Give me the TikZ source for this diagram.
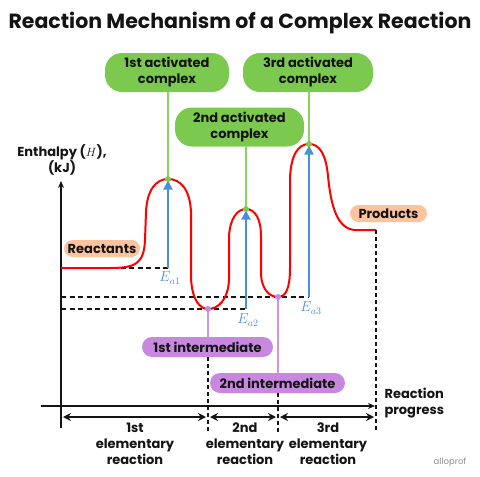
\documentclass[tikz,border=0pt]{standalone}
\usepackage{fontspec}
\setmainfont{Poppins}
\usetikzlibrary{arrows.meta}
\definecolor{ink}{RGB}{20,20,20}
\definecolor{pgreen}{RGB}{124,201,80}
\definecolor{lgreen}{RGB}{140,210,95}
\definecolor{peach}{RGB}{251,195,158}
\definecolor{ppurple}{RGB}{200,136,224}
\definecolor{lpurple}{RGB}{205,150,230}
\definecolor{eblue}{RGB}{74,144,217}
\definecolor{cred}{RGB}{255,0,0}
\newcommand\pfont{\fontsize{13}{16}\selectfont\bfseries}
\begin{document}
\begin{tikzpicture}[x=1pt,y=-1pt,
  pill/.style={align=center,inner sep=0pt,font=\pfont,text=ink},
  gpill/.style={pill,fill=pgreen,rounded corners=17pt,minimum height=39pt},
  opill/.style={pill,fill=peach,rounded corners=8.5pt,minimum height=17pt},
  vpill/.style={pill,fill=ppurple,rounded corners=10pt,minimum height=20pt},
  gline/.style={draw=lgreen,line width=1.5pt},
  vline/.style={draw=lpurple,line width=1.5pt},
  dashln/.style={draw=ink,line width=1.1pt,dash pattern=on 5pt off 3.5pt},
  vdashln/.style={draw=ink,line width=1.1pt,dash pattern=on 4pt off 3pt},
  axis/.style={draw=ink,line width=1.1pt},
  earrow/.style={draw=eblue,line width=2pt,-{Triangle[length=9pt,width=9pt]}},
  dbl/.style={draw=ink,line width=1.3pt,{Stealth[length=8pt,width=8pt]}-{Stealth[length=8pt,width=8pt]}},
  ealab/.style={text=eblue,font=\fontsize{14}{16}\selectfont},
  lab/.style={align=center,font=\pfont,text=ink},
]
\useasboundingbox (0,0) rectangle (480,477);

% title
\node[font=\fontsize{20.5}{24}\selectfont\bfseries,text=ink] (title) at (240,23) {Reaction Mechanism of a Complex Reaction};

% axes
\coordinate (xs) at (41,406);
\coordinate (xe) at (375,406);
\coordinate (ys) at (61,428);
\coordinate (ye) at (61,181);
\draw[axis,-{Stealth[length=7pt,width=6pt]}] (xs) -- (xe);
\draw[axis,-{Stealth[length=7pt,width=6pt]}] (ys) -- (ye);
\node[lab] (ylab) at (62,160) {Enthalpy ($H$),\\(kJ)};
\node[lab,anchor=west,align=left] (xlab) at (381,403) {Reaction\\progress};

% key coordinates
\coordinate (r0) at (61,268);
\coordinate (pk1) at (168,179);
\coordinate (pk2) at (246,209);
\coordinate (pk3) at (309,144);
\coordinate (w1) at (208,309);
\coordinate (w2) at (278,297);
\coordinate (pe) at (376,230);
\coordinate (b1) at (168,268);
\coordinate (b2) at (246,309);
\coordinate (b3) at (309,297);
\coordinate (l2) at (61,297);
\coordinate (l3) at (61,309);

% dashed levels
\draw[dashln] (r0) -- (b1);
\draw[dashln] (l2) -- (b3);
\draw[dashln] (l3) -- (b2);

% activation arrows
\draw[earrow,shorten >=1.5pt] (b1) -- (pk1);
\draw[earrow,shorten >=1.5pt] (b2) -- (pk2);
\draw[earrow,shorten >=1.5pt] (b3) -- (pk3);
\node[ealab] (ea1) at (170,278) {$E_{a1}$};
\node[ealab] (ea2) at (248,320) {$E_{a2}$};
\node[ealab] (ea3) at (311,308) {$E_{a3}$};

% energy curve
\draw[cred,line width=2pt,line join=round]
  (r0) -- (110,268)
  .. controls (135,268) and (144,264) .. (145,240)
  -- (146,212)
  .. controls (147,190) and (156,179) .. (168,179)
  .. controls (181,179) and (190,190) .. (191,212)
  -- (191,278)
  .. controls (192,300) and (200,309) .. (208,309)
  .. controls (218,309) and (228,300) .. (229,280)
  -- (229,236)
  .. controls (230,219) and (237,209) .. (246,209)
  .. controls (255,209) and (261,219) .. (261,236)
  -- (261,275)
  .. controls (262,290) and (270,297) .. (278,297)
  .. controls (286,297) and (290,288) .. (290,268)
  -- (290,178)
  .. controls (291,155) and (298,144) .. (309,144)
  .. controls (320,144) and (326,155) .. (328,176)
  .. controls (331,208) and (338,229) .. (355,230)
  -- (pe);

% product dashed line
\coordinate (pd) at (376,431);
\draw[vdashln] (pe) -- (pd);

% green complex pills
\node[gpill,minimum width=124pt] (c1) at (167,72.5) {1st activated\\complex};
\node[gpill,minimum width=130pt] (c3) at (308,72.5) {3rd activated\\complex};
\node[gpill,minimum width=129pt] (c2) at (239.5,127) {2nd activated\\complex};
\draw[gline] (c1.south -| pk1) -- (pk1);
\draw[gline] (c2.south -| pk2) -- (pk2);
\draw[gline] (c3.south -| pk3) -- (pk3);
\fill[pgreen] (pk1) circle (3pt) (pk2) circle (3pt) (pk3) circle (3pt);

% reactants / products
\node[opill,minimum width=76pt] (react) at (102,248.5) {Reactants};
\node[opill,minimum width=77pt] (prod) at (388.5,213.5) {Products};

% intermediates
\node[vpill,minimum width=131pt] (i1) at (207.5,347) {1st intermediate};
\node[vpill,minimum width=135pt] (i2) at (277.5,383) {2nd intermediate};
\draw[vline] (w1) -- (i1.north -| w1);
\draw[vline] (w2) -- (i2.north -| w2);
\fill[ppurple] (w1) circle (3pt) (w2) circle (3pt);
\coordinate (d1) at (208,432);
\coordinate (d2) at (278,432);
\draw[vdashln] (i1.south -| w1) -- (d1);
\draw[vdashln] (i2.south -| w2) -- (d2);

% elementary reaction spans
\coordinate (s0) at (63,417);
\coordinate (s1a) at (206,417);
\coordinate (s1b) at (210,417);
\coordinate (s2a) at (276,417);
\coordinate (s2b) at (280,417);
\coordinate (s3) at (374,417);
\draw[dbl] (s0) -- (s1a);
\draw[dbl] (s1b) -- (s2a);
\draw[dbl] (s2b) -- (s3);
\node[lab] (e1) at (135,444) {1st\\elementary\\reaction};
\node[lab] (e2) at (245,444) {2nd\\elementary\\reaction};
\node[lab] (e3) at (328,444) {3rd\\elementary\\reaction};

% logo
\node[text=black!45,font=\fontsize{8.5}{10}\selectfont] (logo) at (450,462) {alloprof};
\end{tikzpicture}
\end{document}
